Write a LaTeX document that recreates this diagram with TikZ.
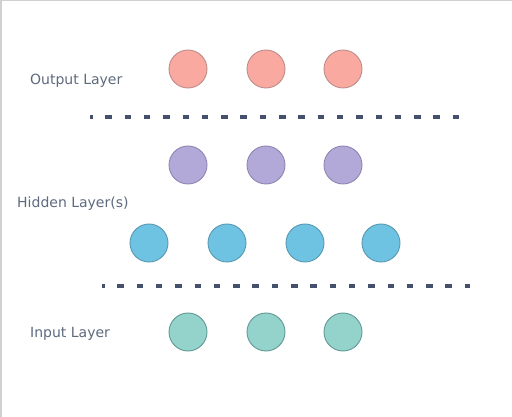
\documentclass[tikz,border=0pt]{standalone}
\usepackage{fontspec}
\setmainfont{DejaVu Sans}
\definecolor{txt}{HTML}{5E6A7E}
\definecolor{dash}{HTML}{44506E}
\definecolor{outf}{HTML}{F9A9A0}
\definecolor{outd}{HTML}{BE8C8A}
\definecolor{hidf}{HTML}{B2A9D8}
\definecolor{hidd}{HTML}{8E86B2}
\definecolor{bluf}{HTML}{6EC2E2}
\definecolor{blud}{HTML}{5A98B2}
\definecolor{inf}{HTML}{94D3CB}
\definecolor{ind}{HTML}{5F9A96}
\begin{document}
\begin{tikzpicture}[x=1pt,y=-1pt,
  neuron/.style={circle,minimum size=38pt,inner sep=0pt,line width=0.9pt},
  outn/.style={neuron,fill=outf,draw=outd},
  hidn/.style={neuron,fill=hidf,draw=hidd},
  blun/.style={neuron,fill=bluf,draw=blud},
  inn/.style={neuron,fill=inf,draw=ind},
  lbl/.style={text=txt,font=\fontsize{14}{16}\selectfont,anchor=west,inner sep=0pt},
  sep/.style={draw=dash,line width=3.5pt,dash pattern=on 6.5pt off 12.8pt}]
\useasboundingbox (0,0) rectangle (512,417);
\fill[white] (0,0) rectangle (512,417);
\draw[black!18,line width=1.5pt] (0.75,417) -- (0.75,0.75) -- (512,0.75);
% labels
\node[lbl] (lout) at (30,80.5) {Output Layer};
\node[lbl] (lhid) at (17,203.5) {Hidden Layer(s)};
\node[lbl] (lin) at (30,333.5) {Input Layer};
% output layer
\node[outn] (o1) at (188,69) {};
\node[outn] (o2) at (266,69) {};
\node[outn] (o3) at (343,69) {};
% hidden layers
\node[hidn] (h1) at (188,165) {};
\node[hidn] (h2) at (266,165) {};
\node[hidn] (h3) at (343,165) {};
\node[blun] (b1) at (149,243) {};
\node[blun] (b2) at (227,243) {};
\node[blun] (b3) at (305,243) {};
\node[blun] (b4) at (381,243) {};
% input layer
\node[inn] (i1) at (188,332) {};
\node[inn] (i2) at (266,332) {};
\node[inn] (i3) at (343,332) {};
% separators
\coordinate (s1a) at (90,117);
\coordinate (s1b) at (460,117);
\coordinate (s2a) at (102,286);
\coordinate (s2b) at (470,286);
\draw[sep,dash phase=4pt] (s1a) -- (s1b);
\draw[sep,dash phase=4pt] (s2a) -- (s2b);
\end{tikzpicture}
\end{document}
